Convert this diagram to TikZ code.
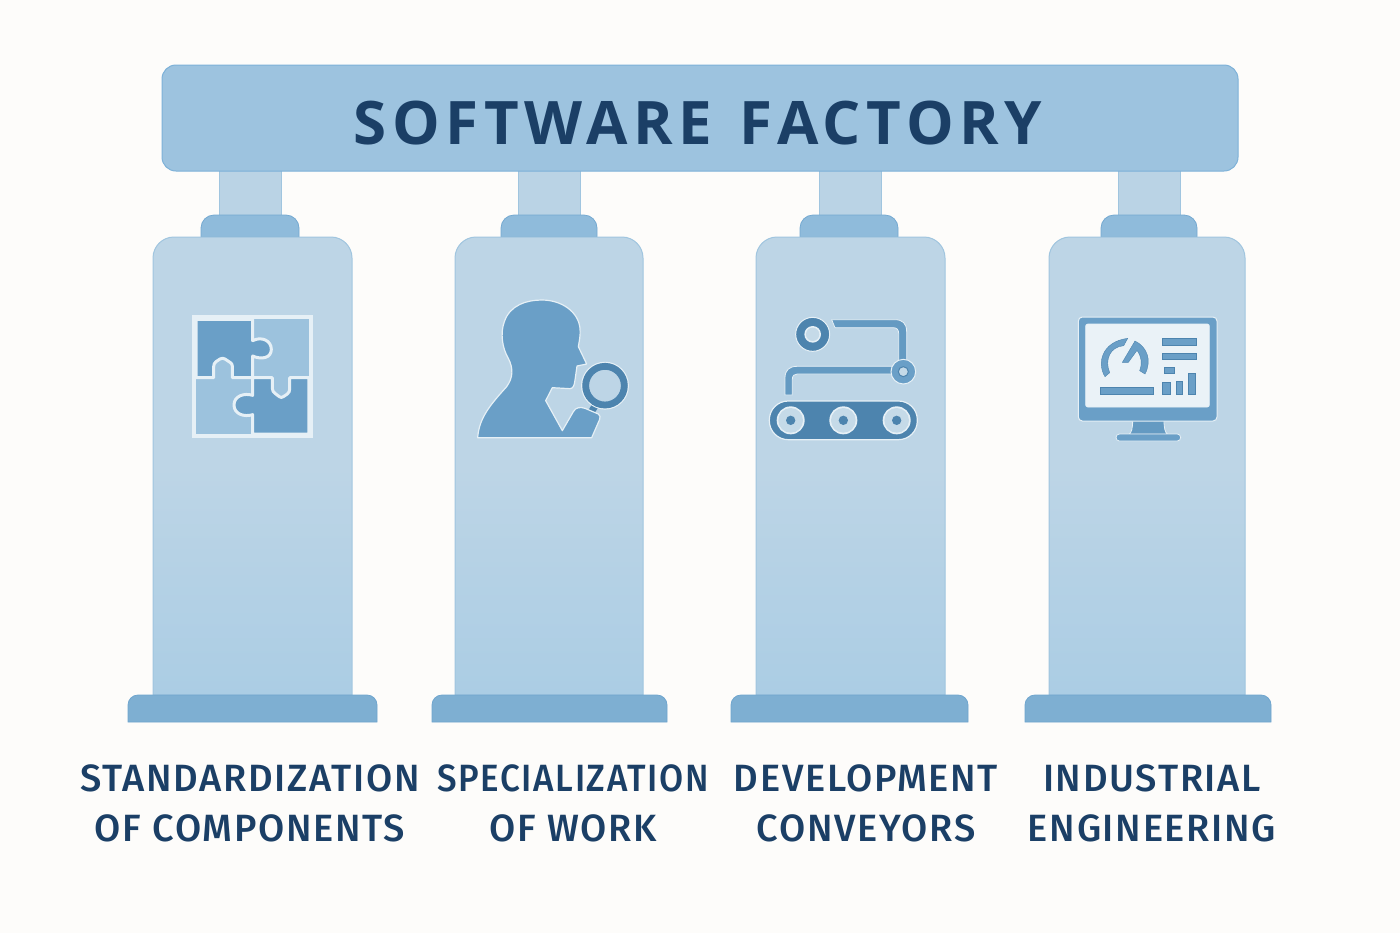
\documentclass[tikz,border=0pt]{standalone}
\usepackage{fontspec}
\setmainfont{Open Sans}
\newfontfamily\titlefont[LetterSpace=9.5]{Open Sans}
\newfontfamily\labelfont[LetterSpace=4.5]{Fira Sans Medium}
\definecolor{bgc}{HTML}{FDFCFA}
\definecolor{barc}{HTML}{9DC3DF}
\definecolor{baredge}{HTML}{7DB1D8}
\definecolor{ptop}{HTML}{BDD5E6}
\definecolor{pbot}{HTML}{ABCDE4}
\definecolor{pedge}{HTML}{A0C5DF}
\definecolor{capc}{HTML}{8FBBDB}
\definecolor{capedge}{HTML}{74A9D1}
\definecolor{basec}{HTML}{7EAFD2}
\definecolor{basedge}{HTML}{6FA5CE}
\definecolor{neckc}{HTML}{BAD3E5}
\definecolor{txtc}{HTML}{1B3F66}
\definecolor{iconD}{HTML}{6A9FC7}
\definecolor{iconL}{HTML}{9CC2DD}
\definecolor{iconS}{HTML}{4D84AE}
\definecolor{halo}{HTML}{E6F0F6}
\definecolor{scr}{HTML}{EAF2F7}
\definecolor{ringc}{HTML}{C5DAE8}
\tikzset{
  x=0.5pt,y=-0.5pt,
  barstyle/.style={fill=barc,draw=baredge,line width=0.5pt},
  pillarstyle/.style={top color=ptop,bottom color=pbot,middle color=ptop,draw=pedge,line width=0.5pt},
  neckstyle/.style={fill=neckc,draw=pedge,line width=0.4pt},
  capstyle/.style={fill=capc,draw=capedge,line width=0.4pt},
  basestyle/.style={fill=basec,draw=basedge,line width=0.4pt},
  labelstyle/.style={text=txtc,font=\labelfont\fontsize{19}{25}\selectfont,align=center,inner sep=0pt,anchor=base},
  zoomscope/.style={x=0.5pt/3,y=-0.5pt/3},
  piece/.style={draw=halo,line width=1.5pt,line join=round},
}
% left, right, top, bottom, radius: a block with rounded top corners
\newcommand{\topround}[5]{(#1,#4) -- (#1,{#3+#5}) .. controls (#1,{#3+0.448*#5}) and ({#1+0.448*#5},#3) .. ({#1+#5},#3) -- ({#2-#5},#3) .. controls ({#2-0.448*#5},#3) and (#2,{#3+0.448*#5}) .. (#2,{#3+#5}) -- (#2,#4) -- cycle}
\newcommand{\pillar}[8]{%
  \path[neckstyle] (#5,170) rectangle (#6,215);
  \path[capstyle] \topround{#3}{#4}{215}{237}{13};
  \path[pillarstyle] \topround{#1}{#2}{237}{695}{21};
  \path[basestyle] \topround{#7}{#8}{695}{722}{10};
}
\begin{document}
\begin{tikzpicture}
\useasboundingbox (0,0) rectangle (1400,933);
\fill[bgc] (0,0) rectangle (1400,933);
\pillar{153}{352}{201}{299}{219}{281}{128}{377}
\pillar{455}{643}{501}{597}{518}{580}{432}{667}
\pillar{756}{945}{800}{898}{819}{881}{731}{968}
\pillar{1049}{1245}{1101}{1197}{1118}{1180}{1025}{1271}
\draw[barstyle,rounded corners=7pt] (162,65) rectangle (1238,171);
\node[text=txtc,font=\titlefont\bfseries\fontsize{30}{34}\selectfont,inner sep=0pt,anchor=base] (title) at (698,144) {SOFTWARE\hspace{3pt} FACTORY};
\node[labelstyle] (l1) at (250,841) {STANDARDIZATION\\OF COMPONENTS};
\node[labelstyle] (l2) at (573,841) {\scalebox{0.92}[1]{SPECIALIZATION}\\OF WORK};
\node[labelstyle] (l3) at (866,841) {DEVELOPMENT\\CONVEYORS};
\node[labelstyle] (l4) at (1152,841) {INDUSTRIAL\\ENGINEERING};

% puzzle
\begin{scope}[shift={(170,290)},zoomscope]
\draw[draw=halo,line width=2pt,fill=iconL] (72,82) rectangle (423,438);
\path[piece,fill=iconD] (78,88) -- (248,88) -- (248,152)
  .. controls (275,138) and (304,152) .. (304,178)
  .. controls (304,204) and (275,210) .. (248,198)
  -- (248,263) -- (187,263) -- (187,228)
  .. controls (187,222) and (184,220) .. (180,217) -- (165,207)
  .. controls (160,204) and (156,204) .. (150,207) -- (138,215)
  .. controls (133,219) and (131,224) .. (131,230)
  -- (131,263) -- (78,263) -- cycle;
\path[piece,fill=iconD] (417,432) -- (248,432) -- (248,374)
  .. controls (222,382) and (192,372) .. (192,345)
  .. controls (192,318) and (222,308) .. (248,316)
  -- (248,263) -- (307,263) -- (307,295)
  .. controls (307,302) and (310,306) .. (315,310) -- (328,320)
  .. controls (332,323) and (336,323) .. (340,320) -- (352,312)
  .. controls (357,308) and (359,303) .. (359,297)
  -- (359,263) -- (417,263) -- cycle;
\draw[halo,line width=1.2pt] (72,82) rectangle (423,438);
\end{scope}

% person
\begin{scope}[shift={(465,290)},zoomscope]
\draw[iconS,line width=3.4pt] (395,340) -- (375,372);
\draw[halo,line width=0.6pt] (420,287) circle[radius=70];
\draw[iconS,line width=3.4pt] (420,287) circle[radius=58];
\path[draw=halo,line width=0.6pt,fill=iconD,line join=round]
  (38,443) .. controls (42,385) and (75,345) .. (125,290)
  .. controls (145,262) and (145,235) .. (130,205)
  .. controls (112,175) and (105,130) .. (118,95)
  .. controls (135,45) and (185,30) .. (230,30)
  .. controls (290,30) and (340,65) .. (345,115)
  .. controls (347,140) and (342,155) .. (340,170)
  -- (365,222) -- (336,228) -- (330,270)
  .. controls (328,285) and (325,296) .. (315,296)
  -- (262,293) -- (242,332) -- (292,422) -- (325,365)
  .. controls (332,352) and (345,350) .. (360,355)
  -- (400,372) .. controls (406,376) and (406,382) .. (404,388)
  -- (380,443) -- cycle;
\end{scope}

% conveyor
\begin{scope}[shift={(760,305)},zoomscope]
\draw[halo,line width=0.5pt,fill=iconS] (158,88) circle[radius=51];
\fill[halo] (158,88) circle[radius=25];
\fill[ringc] (158,88) circle[radius=20];
\path[draw=halo,line width=0.4pt,fill=iconD!80!iconS] (215,44) -- (405,44)
  .. controls (428,44) and (440,56) .. (440,80) -- (440,175) -- (416,175) -- (416,85)
  .. controls (416,74) and (410,68) .. (400,68) -- (225,68) -- cycle;
\path[draw=halo,line width=0.4pt,fill=iconD!80!iconS] (400,184) -- (110,184)
  .. controls (88,184) and (75,196) .. (75,218) -- (75,270) -- (97,270) -- (97,222)
  .. controls (97,212) and (103,207) .. (112,207) -- (400,207) -- cycle;
\draw[halo,line width=0.5pt,fill=iconD] (430,200) circle[radius=37];
\draw[iconS,line width=0.5pt,fill=ringc] (430,200) circle[radius=15];
\draw[draw=halo,line width=0.6pt,fill=iconS,rounded corners=9.4pt] (28,288) rectangle (472,404);
\foreach \wx in {92,250,410}{
  \fill[halo] (\wx,346) circle[radius=42];
  \fill[ringc] (\wx,346) circle[radius=37];
  \fill[iconS] (\wx,346) circle[radius=14];
}
\end{scope}

% monitor
\begin{scope}[shift={(1065,305)},zoomscope]
\path[draw=halo,line width=0.4pt,fill=iconD!80!iconS] (203,345) -- (297,345)
  .. controls (297,370) and (300,382) .. (308,388) -- (192,388)
  .. controls (200,382) and (203,370) .. (203,345) -- cycle;
\draw[halo,line width=0.4pt,fill=iconD,rounded corners=1.7pt] (153,387) rectangle (347,408);
\draw[halo,line width=0.5pt,fill=iconD,rounded corners=2pt] (40,36) rectangle (456,348);
\draw[halo,line width=0.3pt,fill=scr,rounded corners=1pt] (62,57) rectangle (433,306);
\path[fill=iconD,draw=iconS,line width=0.2pt]
  (120,215) .. controls (95,175) and (110,110) .. (188,100)
  -- (176,122) .. controls (135,125) and (118,165) .. (134,203) -- cycle;
\path[fill=iconD,draw=iconS,line width=0.2pt]
  (172,172) -- (210,108) .. controls (245,125) and (262,165) .. (240,207) -- (224,197)
  .. controls (232,175) and (230,155) .. (216,136) -- (190,172) -- cycle;
\foreach \ax/\ay/\bx/\by in {292/100/394/120,292/146/394/164,298/187/328/206,107/248/264/268,292/232/316/268,333/228/351/268,370/204/392/268}{
  \draw[iconS,line width=0.2pt,fill=iconD] (\ax,\ay) rectangle (\bx,\by);
}
\end{scope}
\end{tikzpicture}
\end{document}
